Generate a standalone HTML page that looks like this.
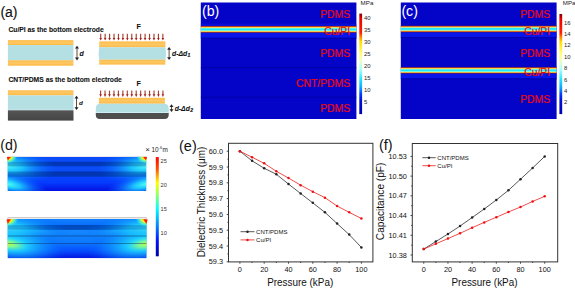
<!DOCTYPE html>
<html><head><meta charset="utf-8"><style>
html,body{margin:0;padding:0;background:#fff;width:575px;height:288px;overflow:hidden}
svg{display:block}
</style></head><body>
<svg width="575" height="288" viewBox="0 0 575 288">
<rect width="575" height="288" fill="#fff"/>
<defs>
<linearGradient id="jetv" x1="0" y1="0" x2="0" y2="1"><stop offset="0.000" stop-color="#7f0000"/><stop offset="0.062" stop-color="#bf0000"/><stop offset="0.125" stop-color="#ff0000"/><stop offset="0.188" stop-color="#ff3f00"/><stop offset="0.250" stop-color="#ff7f00"/><stop offset="0.312" stop-color="#ffbf00"/><stop offset="0.375" stop-color="#ffff00"/><stop offset="0.438" stop-color="#bfff3f"/><stop offset="0.500" stop-color="#7fff7f"/><stop offset="0.562" stop-color="#3fffbf"/><stop offset="0.625" stop-color="#00ffff"/><stop offset="0.688" stop-color="#00bfff"/><stop offset="0.750" stop-color="#007fff"/><stop offset="0.812" stop-color="#003fff"/><stop offset="0.875" stop-color="#0000ff"/><stop offset="0.938" stop-color="#0000bf"/><stop offset="1.000" stop-color="#00007f"/></linearGradient>
<linearGradient id="org" x1="0" y1="0" x2="0" y2="1"><stop offset="0" stop-color="#fcbc48"/><stop offset="0.5" stop-color="#fdc866"/><stop offset="1" stop-color="#fcba42"/></linearGradient>
<linearGradient id="blu" x1="0" y1="0" x2="0" y2="1"><stop offset="0" stop-color="#b4dfe3"/><stop offset="0.85" stop-color="#b4dfe3"/><stop offset="1" stop-color="#bfe6ec"/></linearGradient>
<linearGradient id="gry" x1="0" y1="0" x2="0" y2="1"><stop offset="0" stop-color="#555"/><stop offset="1" stop-color="#454545"/></linearGradient>
<linearGradient id="stripe" x1="0" y1="0" x2="0" y2="1"><stop offset="0" stop-color="#502060"/><stop offset="0.1" stop-color="#d04818"/><stop offset="0.22" stop-color="#ffd848"/><stop offset="0.34" stop-color="#80ffd8"/><stop offset="0.44" stop-color="#20e8ff"/><stop offset="0.56" stop-color="#20e8ff"/><stop offset="0.68" stop-color="#80ffd8"/><stop offset="0.8" stop-color="#ffd848"/><stop offset="0.9" stop-color="#d04818"/><stop offset="1" stop-color="#502060"/></linearGradient>
<marker id="ah" viewBox="0 0 10 10" refX="5" refY="10" markerWidth="4" markerHeight="4" orient="auto"><path d="M0,0 L10,0 L5,10 z" fill="#a3201a"/></marker>
<linearGradient id="cbar" x1="0" y1="0" x2="0" y2="1"><stop offset="0" stop-color="#800010"/><stop offset="0.03" stop-color="#c00000"/><stop offset="0.05" stop-color="#f00000"/><stop offset="0.19" stop-color="#ff2000"/><stop offset="0.23" stop-color="#ff8000"/><stop offset="0.28" stop-color="#ffe000"/><stop offset="0.4" stop-color="#ffff80"/><stop offset="0.46" stop-color="#f0ffc0"/><stop offset="0.56" stop-color="#a0ffff"/><stop offset="0.66" stop-color="#20e0ff"/><stop offset="0.74" stop-color="#10a0ff"/><stop offset="0.8" stop-color="#0040ff"/><stop offset="0.86" stop-color="#0010e0"/><stop offset="1" stop-color="#0000b0"/></linearGradient>
</defs>
<text x="0.4" y="16.9" font-size="14" font-family="Liberation Sans, sans-serif" fill="#111" stroke="#111" stroke-width="0.15">(a)</text>
<text x="8.4" y="31.5" font-size="6.75" font-weight="bold" font-family="Liberation Sans, sans-serif" fill="#111" stroke="#111" stroke-width="0.1">Cu/PI as the bottom electrode</text>
<text x="8.5" y="82.2" font-size="6.75" font-weight="bold" font-family="Liberation Sans, sans-serif" fill="#111" stroke="#111" stroke-width="0.1">CNT/PDMS as the bottom electrode</text>
<rect x="7.9" y="40.1" width="65.5" height="5" fill="url(#org)"/>
<rect x="7.9" y="45.1" width="65.5" height="15.2" fill="#b4dfe3"/>
<rect x="7.9" y="60.3" width="65.5" height="5.4" fill="url(#org)"/>
<line x1="77" y1="47.8" x2="77" y2="58.4" stroke="#222" stroke-width="0.8"/><path d="M75,48.599999999999994 L77,45.8 L79,48.599999999999994 z" fill="#222"/><path d="M75,57.6 L77,60.4 L79,57.6 z" fill="#222"/>
<text x="79.6" y="55.7" font-size="7" font-weight="bold" font-style="italic" font-family="Liberation Sans, sans-serif" fill="#111" stroke="#111" stroke-width="0.08">d</text>
<rect x="99.2" y="41.4" width="66.2" height="5.9" fill="url(#org)"/>
<path d="M99.2,47.2 L165.4,47.2 Q166.6,53.5 165.4,59.7 L99.2,59.7 Q98,53.5 99.2,47.2 z" fill="#b4dfe3"/>
<rect x="99.2" y="59.7" width="66.2" height="4.9" fill="url(#org)"/>
<line x1="100.70" y1="33.8" x2="100.70" y2="38.6" stroke="#a8402f" stroke-width="1.15"/>
<path d="M99.40,38 L102.00,38 L100.70,40.6 z" fill="#a3201a"/>
<line x1="105.14" y1="33.8" x2="105.14" y2="38.6" stroke="#a8402f" stroke-width="1.15"/>
<path d="M103.84,38 L106.44,38 L105.14,40.6 z" fill="#a3201a"/>
<line x1="109.58" y1="33.8" x2="109.58" y2="38.6" stroke="#a8402f" stroke-width="1.15"/>
<path d="M108.28,38 L110.88,38 L109.58,40.6 z" fill="#a3201a"/>
<line x1="114.02" y1="33.8" x2="114.02" y2="38.6" stroke="#a8402f" stroke-width="1.15"/>
<path d="M112.72,38 L115.32,38 L114.02,40.6 z" fill="#a3201a"/>
<line x1="118.46" y1="33.8" x2="118.46" y2="38.6" stroke="#a8402f" stroke-width="1.15"/>
<path d="M117.16,38 L119.76,38 L118.46,40.6 z" fill="#a3201a"/>
<line x1="122.90" y1="33.8" x2="122.90" y2="38.6" stroke="#a8402f" stroke-width="1.15"/>
<path d="M121.60,38 L124.20,38 L122.90,40.6 z" fill="#a3201a"/>
<line x1="127.34" y1="33.8" x2="127.34" y2="38.6" stroke="#a8402f" stroke-width="1.15"/>
<path d="M126.04,38 L128.64,38 L127.34,40.6 z" fill="#a3201a"/>
<line x1="131.78" y1="33.8" x2="131.78" y2="38.6" stroke="#a8402f" stroke-width="1.15"/>
<path d="M130.48,38 L133.08,38 L131.78,40.6 z" fill="#a3201a"/>
<line x1="136.22" y1="33.8" x2="136.22" y2="38.6" stroke="#a8402f" stroke-width="1.15"/>
<path d="M134.92,38 L137.52,38 L136.22,40.6 z" fill="#a3201a"/>
<line x1="140.66" y1="33.8" x2="140.66" y2="38.6" stroke="#a8402f" stroke-width="1.15"/>
<path d="M139.36,38 L141.96,38 L140.66,40.6 z" fill="#a3201a"/>
<line x1="145.10" y1="33.8" x2="145.10" y2="38.6" stroke="#a8402f" stroke-width="1.15"/>
<path d="M143.80,38 L146.40,38 L145.10,40.6 z" fill="#a3201a"/>
<line x1="149.54" y1="33.8" x2="149.54" y2="38.6" stroke="#a8402f" stroke-width="1.15"/>
<path d="M148.24,38 L150.84,38 L149.54,40.6 z" fill="#a3201a"/>
<line x1="153.98" y1="33.8" x2="153.98" y2="38.6" stroke="#a8402f" stroke-width="1.15"/>
<path d="M152.68,38 L155.28,38 L153.98,40.6 z" fill="#a3201a"/>
<line x1="158.42" y1="33.8" x2="158.42" y2="38.6" stroke="#a8402f" stroke-width="1.15"/>
<path d="M157.12,38 L159.72,38 L158.42,40.6 z" fill="#a3201a"/>
<line x1="162.86" y1="33.8" x2="162.86" y2="38.6" stroke="#a8402f" stroke-width="1.15"/>
<path d="M161.56,38 L164.16,38 L162.86,40.6 z" fill="#a3201a"/>
<text x="136.5" y="29" font-size="7" font-weight="bold" font-family="Liberation Sans, sans-serif" fill="#111" stroke="#111" stroke-width="0.1">F</text>
<line x1="169.1" y1="49" x2="169.1" y2="58" stroke="#222" stroke-width="0.8"/><path d="M167.1,49.8 L169.1,47 L171.1,49.8 z" fill="#222"/><path d="M167.1,57.2 L169.1,60 L171.1,57.2 z" fill="#222"/>
<text x="172" y="56" font-size="6.8" font-weight="bold" font-style="italic" font-family="Liberation Sans, sans-serif" fill="#111" stroke="#111" stroke-width="0.08">d-Δd</text>
<text x="187.6" y="57.2" font-size="5" font-weight="bold" font-style="italic" font-family="Liberation Sans, sans-serif" fill="#111" stroke="#111" stroke-width="0.2">1</text>
<rect x="7.9" y="90.3" width="65.6" height="5.1" fill="url(#org)"/>
<rect x="7.9" y="95.4" width="65.6" height="14.9" fill="url(#blu)"/>
<rect x="7.9" y="110.3" width="65.6" height="10.3" fill="url(#gry)"/>
<line x1="76.5" y1="97.8" x2="76.5" y2="108" stroke="#222" stroke-width="0.8"/><path d="M74.5,98.6 L76.5,95.8 L78.5,98.6 z" fill="#222"/><path d="M74.5,107.2 L76.5,110 L78.5,107.2 z" fill="#222"/>
<text x="78.9" y="104.7" font-size="6.2" font-weight="bold" font-style="italic" font-family="Liberation Sans, sans-serif" fill="#111" stroke="#111" stroke-width="0.08">d</text>
<line x1="100.60" y1="90.6" x2="100.60" y2="94.8" stroke="#a8402f" stroke-width="1.15"/>
<path d="M99.30,94.3 L101.90,94.3 L100.60,96.9 z" fill="#a3201a"/>
<line x1="105.05" y1="90.6" x2="105.05" y2="94.8" stroke="#a8402f" stroke-width="1.15"/>
<path d="M103.75,94.3 L106.35,94.3 L105.05,96.9 z" fill="#a3201a"/>
<line x1="109.50" y1="90.6" x2="109.50" y2="94.8" stroke="#a8402f" stroke-width="1.15"/>
<path d="M108.20,94.3 L110.80,94.3 L109.50,96.9 z" fill="#a3201a"/>
<line x1="113.95" y1="90.6" x2="113.95" y2="94.8" stroke="#a8402f" stroke-width="1.15"/>
<path d="M112.65,94.3 L115.25,94.3 L113.95,96.9 z" fill="#a3201a"/>
<line x1="118.40" y1="90.6" x2="118.40" y2="94.8" stroke="#a8402f" stroke-width="1.15"/>
<path d="M117.10,94.3 L119.70,94.3 L118.40,96.9 z" fill="#a3201a"/>
<line x1="122.85" y1="90.6" x2="122.85" y2="94.8" stroke="#a8402f" stroke-width="1.15"/>
<path d="M121.55,94.3 L124.15,94.3 L122.85,96.9 z" fill="#a3201a"/>
<line x1="127.30" y1="90.6" x2="127.30" y2="94.8" stroke="#a8402f" stroke-width="1.15"/>
<path d="M126.00,94.3 L128.60,94.3 L127.30,96.9 z" fill="#a3201a"/>
<line x1="131.75" y1="90.6" x2="131.75" y2="94.8" stroke="#a8402f" stroke-width="1.15"/>
<path d="M130.45,94.3 L133.05,94.3 L131.75,96.9 z" fill="#a3201a"/>
<line x1="136.20" y1="90.6" x2="136.20" y2="94.8" stroke="#a8402f" stroke-width="1.15"/>
<path d="M134.90,94.3 L137.50,94.3 L136.20,96.9 z" fill="#a3201a"/>
<line x1="140.65" y1="90.6" x2="140.65" y2="94.8" stroke="#a8402f" stroke-width="1.15"/>
<path d="M139.35,94.3 L141.95,94.3 L140.65,96.9 z" fill="#a3201a"/>
<line x1="145.10" y1="90.6" x2="145.10" y2="94.8" stroke="#a8402f" stroke-width="1.15"/>
<path d="M143.80,94.3 L146.40,94.3 L145.10,96.9 z" fill="#a3201a"/>
<line x1="149.55" y1="90.6" x2="149.55" y2="94.8" stroke="#a8402f" stroke-width="1.15"/>
<path d="M148.25,94.3 L150.85,94.3 L149.55,96.9 z" fill="#a3201a"/>
<line x1="154.00" y1="90.6" x2="154.00" y2="94.8" stroke="#a8402f" stroke-width="1.15"/>
<path d="M152.70,94.3 L155.30,94.3 L154.00,96.9 z" fill="#a3201a"/>
<line x1="158.45" y1="90.6" x2="158.45" y2="94.8" stroke="#a8402f" stroke-width="1.15"/>
<path d="M157.15,94.3 L159.75,94.3 L158.45,96.9 z" fill="#a3201a"/>
<line x1="162.90" y1="90.6" x2="162.90" y2="94.8" stroke="#a8402f" stroke-width="1.15"/>
<path d="M161.60,94.3 L164.20,94.3 L162.90,96.9 z" fill="#a3201a"/>
<text x="136.5" y="86.3" font-size="7" font-weight="bold" font-family="Liberation Sans, sans-serif" fill="#111" stroke="#111" stroke-width="0.1">F</text>
<rect x="98.9" y="97.8" width="66" height="5.9" fill="url(#org)"/>
<path d="M99.2,103.7 L165.2,103.7 Q168.6,104.3 168.7,108.5 L168.7,112.8 L95.8,112.8 L95.8,108.5 Q95.9,104.3 99.2,103.7 z" fill="#b4dfe3"/>
<line x1="95.9" y1="112.5" x2="168.6" y2="112.5" stroke="#d0f0f8" stroke-width="0.7"/>
<path d="M95.8,112.9 L168.7,112.9 L168.7,115 Q168.5,118.9 164.8,119 L99.6,119 Q95.9,118.9 95.8,115 z" fill="#4e4e4e"/>
<line x1="171.5" y1="106.2" x2="171.5" y2="110" stroke="#222" stroke-width="0.8"/><path d="M169.5,107.0 L171.5,104.2 L173.5,107.0 z" fill="#222"/><path d="M169.5,109.2 L171.5,112 L173.5,109.2 z" fill="#222"/>
<text x="174.7" y="111.1" font-size="6.8" font-weight="bold" font-style="italic" font-family="Liberation Sans, sans-serif" fill="#111" stroke="#111" stroke-width="0.08">d-Δd</text>
<text x="190.3" y="112.4" font-size="5" font-weight="bold" font-style="italic" font-family="Liberation Sans, sans-serif" fill="#111" stroke="#111" stroke-width="0.2">2</text>
<rect x="200.8" y="2.5" width="155.6" height="116.5" fill="#0404c8"/>
<rect x="200.8" y="32.8" width="155.6" height="5" fill="#0818f0" opacity="0.85"/>
<rect x="200.8" y="23.5" width="155.6" height="2.5" fill="#0818e8" opacity="0.5"/>
<rect x="200.8" y="25.9" width="155.6" height="6.9" fill="url(#stripe)"/>
<line x1="200.8" y1="38.2" x2="356.4" y2="38.2" stroke="#000098" stroke-width="0.7"/>
<line x1="200.8" y1="67.6" x2="356.4" y2="67.6" stroke="#000098" stroke-width="0.7"/>
<line x1="200.8" y1="97.2" x2="356.4" y2="97.2" stroke="#000098" stroke-width="0.7"/>
<text x="202" y="16" font-size="14.2" font-family="Liberation Sans, sans-serif" fill="#ffffff">(b)</text>
<text x="350.2" y="17.5" font-size="10.4" text-anchor="end" font-family="Liberation Sans, sans-serif" fill="#ee0808" stroke="#ee0808" stroke-width="0.18">PDMS</text>
<text x="350.2" y="35.4" font-size="10.4" text-anchor="end" font-family="Liberation Sans, sans-serif" fill="#ee0808" stroke="#ee0808" stroke-width="0.18">Cu/PI</text>
<text x="350.2" y="57.2" font-size="10.4" text-anchor="end" font-family="Liberation Sans, sans-serif" fill="#ee0808" stroke="#ee0808" stroke-width="0.18">PDMS</text>
<text x="350.2" y="87.2" font-size="10.4" text-anchor="end" font-family="Liberation Sans, sans-serif" fill="#ee0808" stroke="#ee0808" stroke-width="0.18">CNT/PDMS</text>
<text x="350.2" y="111.7" font-size="10.4" text-anchor="end" font-family="Liberation Sans, sans-serif" fill="#ee0808" stroke="#ee0808" stroke-width="0.18">PDMS</text>
<rect x="359.3" y="13.6" width="2.8" height="100.5" fill="url(#cbar)"/>
<text x="360.6" y="4.9" font-size="6.2" font-family="Liberation Sans, sans-serif" fill="#222">MPa</text>
<text x="364" y="20.40" font-size="5.9" font-family="Liberation Sans, sans-serif" fill="#222">40</text>
<text x="364" y="32.41" font-size="5.9" font-family="Liberation Sans, sans-serif" fill="#222">35</text>
<text x="364" y="44.42" font-size="5.9" font-family="Liberation Sans, sans-serif" fill="#222">30</text>
<text x="364" y="56.43" font-size="5.9" font-family="Liberation Sans, sans-serif" fill="#222">25</text>
<text x="364" y="68.44" font-size="5.9" font-family="Liberation Sans, sans-serif" fill="#222">20</text>
<text x="364" y="80.45" font-size="5.9" font-family="Liberation Sans, sans-serif" fill="#222">15</text>
<text x="364" y="92.46" font-size="5.9" font-family="Liberation Sans, sans-serif" fill="#222">10</text>
<text x="364" y="104.47" font-size="5.9" font-family="Liberation Sans, sans-serif" fill="#222">5</text>
<rect x="400.8" y="2.5" width="155.8" height="116.5" fill="#0404c8"/>
<rect x="400.8" y="32.3" width="155.8" height="5" fill="#0818f0" opacity="0.85"/>
<rect x="400.8" y="73.5" width="155.8" height="5" fill="#0818f0" opacity="0.85"/>
<rect x="400.8" y="25.6" width="155.8" height="6.7" fill="url(#stripe)"/>
<rect x="400.8" y="67.1" width="155.8" height="6.5" fill="url(#stripe)"/>
<line x1="400.8" y1="37.6" x2="556.6" y2="37.6" stroke="#000098" stroke-width="0.7"/>
<line x1="400.8" y1="78.8" x2="556.6" y2="78.8" stroke="#000098" stroke-width="0.7"/>
<text x="401.4" y="16" font-size="14.2" font-family="Liberation Sans, sans-serif" fill="#ffffff">(c)</text>
<text x="550.2" y="17.7" font-size="10.4" text-anchor="end" font-family="Liberation Sans, sans-serif" fill="#ee0808" stroke="#ee0808" stroke-width="0.18">PDMS</text>
<text x="550.2" y="35.0" font-size="10.4" text-anchor="end" font-family="Liberation Sans, sans-serif" fill="#ee0808" stroke="#ee0808" stroke-width="0.18">Cu/PI</text>
<text x="550.2" y="56.7" font-size="10.4" text-anchor="end" font-family="Liberation Sans, sans-serif" fill="#ee0808" stroke="#ee0808" stroke-width="0.18">PDMS</text>
<text x="550.2" y="76.0" font-size="10.4" text-anchor="end" font-family="Liberation Sans, sans-serif" fill="#ee0808" stroke="#ee0808" stroke-width="0.18">Cu/PI</text>
<text x="550.2" y="102.7" font-size="10.4" text-anchor="end" font-family="Liberation Sans, sans-serif" fill="#ee0808" stroke="#ee0808" stroke-width="0.18">PDMS</text>
<rect x="559.4" y="14" width="2.8" height="100.1" fill="url(#cbar)"/>
<text x="562.8" y="4.9" font-size="6.2" font-family="Liberation Sans, sans-serif" fill="#222">MPa</text>
<text x="564" y="24.60" font-size="5.9" font-family="Liberation Sans, sans-serif" fill="#222">16</text>
<text x="564" y="36.01" font-size="5.9" font-family="Liberation Sans, sans-serif" fill="#222">14</text>
<text x="564" y="47.42" font-size="5.9" font-family="Liberation Sans, sans-serif" fill="#222">12</text>
<text x="564" y="58.83" font-size="5.9" font-family="Liberation Sans, sans-serif" fill="#222">10</text>
<text x="564" y="70.24" font-size="5.9" font-family="Liberation Sans, sans-serif" fill="#222">8</text>
<text x="564" y="81.65" font-size="5.9" font-family="Liberation Sans, sans-serif" fill="#222">6</text>
<text x="564" y="93.06" font-size="5.9" font-family="Liberation Sans, sans-serif" fill="#222">4</text>
<text x="564" y="104.47" font-size="5.9" font-family="Liberation Sans, sans-serif" fill="#222">2</text>
<text x="0.2" y="149.6" font-size="14.2" font-family="Liberation Sans, sans-serif" fill="#111">(d)</text>
<text x="145.2" y="152" font-size="8" font-family="Liberation Sans, sans-serif" fill="#222">×</text>
<text x="151.4" y="151.8" font-size="6.4" font-family="Liberation Sans, sans-serif" fill="#222">10</text>
<text x="158.6" y="149.2" font-size="4" font-family="Liberation Sans, sans-serif" fill="#222">-6</text>
<text x="162.4" y="151.8" font-size="6.4" font-family="Liberation Sans, sans-serif" fill="#222">m</text>
<defs><linearGradient id="jetd" x1="0" y1="0" x2="0" y2="1"><stop offset="0" stop-color="#ff0000"/><stop offset="0.12" stop-color="#ff5000"/><stop offset="0.26" stop-color="#ffff00"/><stop offset="0.4" stop-color="#80ff80"/><stop offset="0.52" stop-color="#00ffff"/><stop offset="0.7" stop-color="#0080ff"/><stop offset="0.85" stop-color="#0010ff"/><stop offset="1" stop-color="#0000a0"/></linearGradient></defs>
<rect x="155.8" y="157.1" width="3" height="99.2" fill="url(#jetd)"/>
<text x="160.6" y="162.80" font-size="5.6" font-family="Liberation Sans, sans-serif" fill="#333">25</text>
<text x="160.6" y="186.60" font-size="5.6" font-family="Liberation Sans, sans-serif" fill="#333">20</text>
<text x="160.6" y="210.90" font-size="5.6" font-family="Liberation Sans, sans-serif" fill="#333">15</text>
<text x="160.6" y="235.20" font-size="5.6" font-family="Liberation Sans, sans-serif" fill="#333">10</text>
<defs><linearGradient id="hedge" x1="0" y1="0" x2="1" y2="0"><stop offset="0" stop-color="#40f0ff" stop-opacity="0.95"/><stop offset="0.07" stop-color="#20c8ff" stop-opacity="0.65"/><stop offset="0.2" stop-color="#10a0ff" stop-opacity="0.28"/><stop offset="0.36" stop-color="#0070ff" stop-opacity="0"/><stop offset="0.64" stop-color="#0070ff" stop-opacity="0"/><stop offset="0.8" stop-color="#10a0ff" stop-opacity="0.28"/><stop offset="0.93" stop-color="#20c8ff" stop-opacity="0.65"/><stop offset="1" stop-color="#40f0ff" stop-opacity="0.95"/></linearGradient><linearGradient id="d1v" x1="0" y1="0" x2="0" y2="1"><stop offset="0" stop-color="#1060ff"/><stop offset="0.14" stop-color="#0a58f8"/><stop offset="0.16" stop-color="#0038b0"/><stop offset="0.22" stop-color="#0040c0"/><stop offset="0.245" stop-color="#0a5cff"/><stop offset="0.44" stop-color="#0a58f8"/><stop offset="0.46" stop-color="#0036a8"/><stop offset="0.55" stop-color="#0040b8"/><stop offset="0.57" stop-color="#0858ff"/><stop offset="0.75" stop-color="#0648ff"/><stop offset="1" stop-color="#0410d8"/></linearGradient><radialGradient id="bulb1" cx="0.5" cy="0.5" r="0.5"><stop offset="0" stop-color="#40f8f0" stop-opacity="1"/><stop offset="0.4" stop-color="#20d8ff" stop-opacity="0.8"/><stop offset="1" stop-color="#10a0ff" stop-opacity="0"/></radialGradient><radialGradient id="bulbtop" cx="0.5" cy="0.5" r="0.5"><stop offset="0" stop-color="#50ffff" stop-opacity="1"/><stop offset="0.5" stop-color="#30d8ff" stop-opacity="0.7"/><stop offset="1" stop-color="#10a0ff" stop-opacity="0"/></radialGradient><radialGradient id="corner" cx="0.5" cy="0.5" r="0.5"><stop offset="0" stop-color="#ff2000"/><stop offset="0.22" stop-color="#ff9000"/><stop offset="0.42" stop-color="#f0ff20" stop-opacity="0.95"/><stop offset="0.7" stop-color="#60ffb0" stop-opacity="0.7"/><stop offset="1" stop-color="#20e0ff" stop-opacity="0"/></radialGradient><linearGradient id="d2v" x1="0" y1="0" x2="0" y2="1"><stop offset="0" stop-color="#1888ff"/><stop offset="0.14" stop-color="#1080ff"/><stop offset="0.16" stop-color="#0660d0"/><stop offset="0.27" stop-color="#0868d8"/><stop offset="0.29" stop-color="#1490ff"/><stop offset="0.6" stop-color="#0a80ff"/><stop offset="0.8" stop-color="#0a58ff"/><stop offset="1" stop-color="#0418e4"/></linearGradient><radialGradient id="bulb2" cx="0.5" cy="0.5" r="0.5"><stop offset="0" stop-color="#c0ff40" stop-opacity="1"/><stop offset="0.35" stop-color="#60ffa0" stop-opacity="0.85"/><stop offset="0.7" stop-color="#20d0ff" stop-opacity="0.5"/><stop offset="1" stop-color="#10a0ff" stop-opacity="0"/></radialGradient></defs>
<defs><linearGradient id="d1b" x1="0" y1="0" x2="0" y2="1"><stop offset="0" stop-color="#0848f8"/><stop offset="0.13" stop-color="#0a4cfa"/><stop offset="0.155" stop-color="#0036c4"/><stop offset="0.26" stop-color="#003ac8"/><stop offset="0.285" stop-color="#0a4cf8"/><stop offset="0.415" stop-color="#0a4cf8"/><stop offset="0.44" stop-color="#0034bc"/><stop offset="0.565" stop-color="#003ac4"/><stop offset="0.59" stop-color="#0844ff"/><stop offset="0.75" stop-color="#063cff"/><stop offset="1" stop-color="#0410e0"/></linearGradient><radialGradient id="glow" cx="0.5" cy="0.5" r="0.5"><stop offset="0" stop-color="#50fff0" stop-opacity="1"/><stop offset="0.3" stop-color="#20e0ff" stop-opacity="0.85"/><stop offset="0.65" stop-color="#10a0ff" stop-opacity="0.4"/><stop offset="1" stop-color="#0060ff" stop-opacity="0"/></radialGradient></defs>
<clipPath id="cl1"><rect x="7.6" y="156.8" width="138.70000000000002" height="34.3"/></clipPath>
<g clip-path="url(#cl1)">
<rect x="7.6" y="156.8" width="138.70000000000002" height="34.3" fill="url(#d1b)"/>
<ellipse cx="0" cy="0" rx="50" ry="19" fill="url(#glow)" opacity="0.95" transform="translate(7.6,166) rotate(4)"/>
<ellipse cx="0" cy="0" rx="50" ry="19" fill="url(#glow)" opacity="0.95" transform="translate(146.3,166) rotate(-4)"/>
<ellipse cx="0" cy="0" rx="42" ry="12" fill="url(#glow)" opacity="1" transform="translate(7.6,184) rotate(12)"/>
<ellipse cx="0" cy="0" rx="42" ry="12" fill="url(#glow)" opacity="1" transform="translate(146.3,184) rotate(-12)"/>
<rect x="7.6" y="161.8" width="138.70000000000002" height="4.6" fill="#003090" opacity="0.28"/>
<rect x="7.6" y="171.6" width="138.70000000000002" height="5.2" fill="#003090" opacity="0.28"/>
<ellipse cx="7.6" cy="156.8" rx="10" ry="7" fill="url(#corner)"/>
<ellipse cx="146.3" cy="156.8" rx="10" ry="7" fill="url(#corner)"/>
</g>
<line x1="7.6" y1="156.4" x2="146.3" y2="156.4" stroke="#e8d8d8" stroke-width="0.5"/>
<path d="M6.8,157 L10.6,157 L7.8999999999999995,160.5 z" fill="#ff2000"/>
<path d="M147.10000000000002,157 L143.3,157 L146.0,160.5 z" fill="#ff2000"/>
<defs><linearGradient id="d2b" x1="0" y1="0" x2="0" y2="1"><stop offset="0" stop-color="#1080ff"/><stop offset="0.14" stop-color="#0a70ff"/><stop offset="0.16" stop-color="#0050c8"/><stop offset="0.27" stop-color="#0058d0"/><stop offset="0.29" stop-color="#1488ff"/><stop offset="0.6" stop-color="#0c78ff"/><stop offset="0.8" stop-color="#0650ff"/><stop offset="1" stop-color="#0414e0"/></linearGradient><radialGradient id="glow2" cx="0.5" cy="0.5" r="0.5"><stop offset="0" stop-color="#c0ff40" stop-opacity="1"/><stop offset="0.14" stop-color="#80ff90" stop-opacity="0.95"/><stop offset="0.32" stop-color="#20e0ff" stop-opacity="0.85"/><stop offset="0.7" stop-color="#10a0ff" stop-opacity="0.4"/><stop offset="1" stop-color="#0060ff" stop-opacity="0"/></radialGradient></defs>
<line x1="7.6" y1="217.8" x2="146.6" y2="217.8" stroke="#a09898" stroke-width="0.7"/>
<clipPath id="cl2"><rect x="7.6" y="219" width="139.0" height="39.2"/></clipPath>
<g clip-path="url(#cl2)">
<rect x="7.6" y="219" width="139.0" height="39.2" fill="url(#d2b)"/>
<ellipse cx="0" cy="0" rx="62" ry="18" fill="url(#glow)" opacity="0.95" transform="translate(7.6,229) rotate(3)"/>
<ellipse cx="0" cy="0" rx="62" ry="18" fill="url(#glow)" opacity="0.95" transform="translate(146.6,229) rotate(-3)"/>
<ellipse cx="0" cy="0" rx="60" ry="20" fill="url(#glow2)" opacity="1" transform="translate(7.6,244) rotate(8)"/>
<ellipse cx="0" cy="0" rx="60" ry="20" fill="url(#glow2)" opacity="1" transform="translate(146.6,244) rotate(-8)"/>
<rect x="7.6" y="225" width="139.0" height="4.5" fill="#003090" opacity="0.22"/>
<line x1="7.6" y1="236" x2="146.6" y2="236" stroke="#103060" stroke-width="0.6" opacity="0.85"/>
<line x1="7.6" y1="243.4" x2="146.6" y2="243.4" stroke="#103060" stroke-width="0.6" opacity="0.85"/>
<ellipse cx="7.6" cy="219" rx="11" ry="8" fill="url(#corner)"/>
<ellipse cx="146.6" cy="219" rx="11" ry="8" fill="url(#corner)"/>
</g>
<path d="M6.3999999999999995,219.6 L10.6,219.6 L7.8,224 z" fill="#ff2000"/>
<path d="M147.79999999999998,219.6 L143.6,219.6 L146.4,224 z" fill="#ff2000"/>
<line x1="146.6" y1="217.9" x2="146.6" y2="220" stroke="#b0a0a0" stroke-width="0.5"/>
<line x1="7.6" y1="217.9" x2="7.6" y2="220" stroke="#b0a0a0" stroke-width="0.5"/>
<text x="179" y="150.6" font-size="14.5" font-family="Liberation Sans, sans-serif" fill="#111">(e)</text>
<rect x="228.5" y="143.3" width="144.39999999999998" height="118.59999999999997" fill="none" stroke="#333" stroke-width="1"/><line x1="239.9" y1="261.9" x2="239.9" y2="263.7" stroke="#333" stroke-width="0.9"/><text x="239.9" y="271.5" font-size="7.3" text-anchor="middle" font-family="Liberation Sans, sans-serif" fill="#111">0</text><line x1="264.196" y1="261.9" x2="264.196" y2="263.7" stroke="#333" stroke-width="0.9"/><text x="264.196" y="271.5" font-size="7.3" text-anchor="middle" font-family="Liberation Sans, sans-serif" fill="#111">20</text><line x1="288.492" y1="261.9" x2="288.492" y2="263.7" stroke="#333" stroke-width="0.9"/><text x="288.492" y="271.5" font-size="7.3" text-anchor="middle" font-family="Liberation Sans, sans-serif" fill="#111">40</text><line x1="312.788" y1="261.9" x2="312.788" y2="263.7" stroke="#333" stroke-width="0.9"/><text x="312.788" y="271.5" font-size="7.3" text-anchor="middle" font-family="Liberation Sans, sans-serif" fill="#111">60</text><line x1="337.084" y1="261.9" x2="337.084" y2="263.7" stroke="#333" stroke-width="0.9"/><text x="337.084" y="271.5" font-size="7.3" text-anchor="middle" font-family="Liberation Sans, sans-serif" fill="#111">80</text><line x1="361.38" y1="261.9" x2="361.38" y2="263.7" stroke="#333" stroke-width="0.9"/><text x="361.38" y="271.5" font-size="7.3" text-anchor="middle" font-family="Liberation Sans, sans-serif" fill="#111">100</text><line x1="252.048" y1="261.9" x2="252.048" y2="263.0" stroke="#333" stroke-width="0.9"/><line x1="276.344" y1="261.9" x2="276.344" y2="263.0" stroke="#333" stroke-width="0.9"/><line x1="300.64" y1="261.9" x2="300.64" y2="263.0" stroke="#333" stroke-width="0.9"/><line x1="324.93600000000004" y1="261.9" x2="324.93600000000004" y2="263.0" stroke="#333" stroke-width="0.9"/><line x1="349.232" y1="261.9" x2="349.232" y2="263.0" stroke="#333" stroke-width="0.9"/><line x1="226.7" y1="151.2" x2="228.5" y2="151.2" stroke="#333" stroke-width="0.9"/><text x="223.0" y="153.79999999999998" font-size="7.3" text-anchor="end" font-family="Liberation Sans, sans-serif" fill="#111">60.0</text><line x1="226.7" y1="167.00000000000023" x2="228.5" y2="167.00000000000023" stroke="#333" stroke-width="0.9"/><text x="223.0" y="169.60000000000022" font-size="7.3" text-anchor="end" font-family="Liberation Sans, sans-serif" fill="#111">59.9</text><line x1="226.7" y1="182.80000000000044" x2="228.5" y2="182.80000000000044" stroke="#333" stroke-width="0.9"/><text x="223.0" y="185.40000000000043" font-size="7.3" text-anchor="end" font-family="Liberation Sans, sans-serif" fill="#111">59.8</text><line x1="226.7" y1="198.59999999999954" x2="228.5" y2="198.59999999999954" stroke="#333" stroke-width="0.9"/><text x="223.0" y="201.19999999999953" font-size="7.3" text-anchor="end" font-family="Liberation Sans, sans-serif" fill="#111">59.7</text><line x1="226.7" y1="214.39999999999975" x2="228.5" y2="214.39999999999975" stroke="#333" stroke-width="0.9"/><text x="223.0" y="216.99999999999974" font-size="7.3" text-anchor="end" font-family="Liberation Sans, sans-serif" fill="#111">59.6</text><line x1="226.7" y1="230.2" x2="228.5" y2="230.2" stroke="#333" stroke-width="0.9"/><text x="223.0" y="232.79999999999998" font-size="7.3" text-anchor="end" font-family="Liberation Sans, sans-serif" fill="#111">59.5</text><line x1="226.7" y1="246.00000000000023" x2="228.5" y2="246.00000000000023" stroke="#333" stroke-width="0.9"/><text x="223.0" y="248.60000000000022" font-size="7.3" text-anchor="end" font-family="Liberation Sans, sans-serif" fill="#111">59.4</text><line x1="226.7" y1="261.8000000000004" x2="228.5" y2="261.8000000000004" stroke="#333" stroke-width="0.9"/><text x="223.0" y="264.40000000000043" font-size="7.3" text-anchor="end" font-family="Liberation Sans, sans-serif" fill="#111">59.3</text><line x1="227.4" y1="159.09999999999954" x2="228.5" y2="159.09999999999954" stroke="#333" stroke-width="0.9"/><line x1="227.4" y1="174.89999999999975" x2="228.5" y2="174.89999999999975" stroke="#333" stroke-width="0.9"/><line x1="227.4" y1="190.7" x2="228.5" y2="190.7" stroke="#333" stroke-width="0.9"/><line x1="227.4" y1="206.4999999999991" x2="228.5" y2="206.4999999999991" stroke="#333" stroke-width="0.9"/><line x1="227.4" y1="222.29999999999933" x2="228.5" y2="222.29999999999933" stroke="#333" stroke-width="0.9"/><line x1="227.4" y1="238.09999999999954" x2="228.5" y2="238.09999999999954" stroke="#333" stroke-width="0.9"/><line x1="227.4" y1="253.89999999999975" x2="228.5" y2="253.89999999999975" stroke="#333" stroke-width="0.9"/><polyline points="239.90,151.20 252.05,160.84 264.20,168.26 276.34,174.27 288.49,184.06 300.64,193.54 312.79,202.87 324.94,212.35 337.08,223.56 349.23,234.62 361.38,247.42" fill="none" stroke="#222" stroke-width="0.75"/><circle cx="239.90" cy="151.20" r="1.25" fill="#222"/><circle cx="252.05" cy="160.84" r="1.25" fill="#222"/><circle cx="264.20" cy="168.26" r="1.25" fill="#222"/><circle cx="276.34" cy="174.27" r="1.25" fill="#222"/><circle cx="288.49" cy="184.06" r="1.25" fill="#222"/><circle cx="300.64" cy="193.54" r="1.25" fill="#222"/><circle cx="312.79" cy="202.87" r="1.25" fill="#222"/><circle cx="324.94" cy="212.35" r="1.25" fill="#222"/><circle cx="337.08" cy="223.56" r="1.25" fill="#222"/><circle cx="349.23" cy="234.62" r="1.25" fill="#222"/><circle cx="361.38" cy="247.42" r="1.25" fill="#222"/><polyline points="239.90,151.20 252.05,157.20 264.20,163.37 276.34,171.27 288.49,178.06 300.64,185.17 312.79,191.65 324.94,197.65 337.08,206.03 349.23,212.35 361.38,218.51" fill="none" stroke="#ee1111" stroke-width="0.75"/><circle cx="239.90" cy="151.20" r="1.25" fill="#ee1111"/><circle cx="252.05" cy="157.20" r="1.25" fill="#ee1111"/><circle cx="264.20" cy="163.37" r="1.25" fill="#ee1111"/><circle cx="276.34" cy="171.27" r="1.25" fill="#ee1111"/><circle cx="288.49" cy="178.06" r="1.25" fill="#ee1111"/><circle cx="300.64" cy="185.17" r="1.25" fill="#ee1111"/><circle cx="312.79" cy="191.65" r="1.25" fill="#ee1111"/><circle cx="324.94" cy="197.65" r="1.25" fill="#ee1111"/><circle cx="337.08" cy="206.03" r="1.25" fill="#ee1111"/><circle cx="349.23" cy="212.35" r="1.25" fill="#ee1111"/><circle cx="361.38" cy="218.51" r="1.25" fill="#ee1111"/><text x="300.2" y="285.6" font-size="10.6" text-anchor="middle" textLength="66" lengthAdjust="spacingAndGlyphs" font-family="Liberation Sans, sans-serif" fill="#111">Pressure (kPa)</text><text x="0" y="0" font-size="10.6" text-anchor="middle" textLength="110.5" lengthAdjust="spacingAndGlyphs" font-family="Liberation Sans, sans-serif" fill="#111" transform="translate(204.6,202.0) rotate(-90)">Dielectric Thickness (μm)</text><line x1="240.5" y1="231.7" x2="254.5" y2="231.7" stroke="#222" stroke-width="0.75"/><circle cx="247.50" cy="231.7" r="1.25" fill="#222"/><text x="256.1" y="233.89999999999998" font-size="6" font-family="Liberation Sans, sans-serif" fill="#111">CNT/PDMS</text><line x1="240.5" y1="239.9" x2="254.5" y2="239.9" stroke="#ee1111" stroke-width="0.75"/><circle cx="247.50" cy="239.9" r="1.25" fill="#ee1111"/><text x="256.1" y="242.1" font-size="6" font-family="Liberation Sans, sans-serif" fill="#111">Cu/PI</text>
<text x="379" y="149.8" font-size="14.5" font-family="Liberation Sans, sans-serif" fill="#111">(f)</text>
<rect x="412.3" y="143.5" width="145.40000000000003" height="118.39999999999998" fill="none" stroke="#333" stroke-width="1"/><line x1="423.75" y1="261.9" x2="423.75" y2="263.7" stroke="#333" stroke-width="0.9"/><text x="423.75" y="271.5" font-size="7.3" text-anchor="middle" font-family="Liberation Sans, sans-serif" fill="#111">0</text><line x1="447.94" y1="261.9" x2="447.94" y2="263.7" stroke="#333" stroke-width="0.9"/><text x="447.94" y="271.5" font-size="7.3" text-anchor="middle" font-family="Liberation Sans, sans-serif" fill="#111">20</text><line x1="472.13" y1="261.9" x2="472.13" y2="263.7" stroke="#333" stroke-width="0.9"/><text x="472.13" y="271.5" font-size="7.3" text-anchor="middle" font-family="Liberation Sans, sans-serif" fill="#111">40</text><line x1="496.32" y1="261.9" x2="496.32" y2="263.7" stroke="#333" stroke-width="0.9"/><text x="496.32" y="271.5" font-size="7.3" text-anchor="middle" font-family="Liberation Sans, sans-serif" fill="#111">60</text><line x1="520.51" y1="261.9" x2="520.51" y2="263.7" stroke="#333" stroke-width="0.9"/><text x="520.51" y="271.5" font-size="7.3" text-anchor="middle" font-family="Liberation Sans, sans-serif" fill="#111">80</text><line x1="544.7" y1="261.9" x2="544.7" y2="263.7" stroke="#333" stroke-width="0.9"/><text x="544.7" y="271.5" font-size="7.3" text-anchor="middle" font-family="Liberation Sans, sans-serif" fill="#111">100</text><line x1="435.845" y1="261.9" x2="435.845" y2="263.0" stroke="#333" stroke-width="0.9"/><line x1="460.035" y1="261.9" x2="460.035" y2="263.0" stroke="#333" stroke-width="0.9"/><line x1="484.225" y1="261.9" x2="484.225" y2="263.0" stroke="#333" stroke-width="0.9"/><line x1="508.415" y1="261.9" x2="508.415" y2="263.0" stroke="#333" stroke-width="0.9"/><line x1="532.605" y1="261.9" x2="532.605" y2="263.0" stroke="#333" stroke-width="0.9"/><line x1="410.5" y1="156.40500000000094" x2="412.3" y2="156.40500000000094" stroke="#333" stroke-width="0.9"/><text x="406.8" y="159.00500000000093" font-size="7.3" text-anchor="end" font-family="Liberation Sans, sans-serif" fill="#111">10.53</text><line x1="410.5" y1="176.12400000000054" x2="412.3" y2="176.12400000000054" stroke="#333" stroke-width="0.9"/><text x="406.8" y="178.72400000000053" font-size="7.3" text-anchor="end" font-family="Liberation Sans, sans-serif" fill="#111">10.50</text><line x1="410.5" y1="195.84300000000127" x2="412.3" y2="195.84300000000127" stroke="#333" stroke-width="0.9"/><text x="406.8" y="198.44300000000126" font-size="7.3" text-anchor="end" font-family="Liberation Sans, sans-serif" fill="#111">10.47</text><line x1="410.5" y1="215.56200000000084" x2="412.3" y2="215.56200000000084" stroke="#333" stroke-width="0.9"/><text x="406.8" y="218.16200000000083" font-size="7.3" text-anchor="end" font-family="Liberation Sans, sans-serif" fill="#111">10.44</text><line x1="410.5" y1="235.28100000000043" x2="412.3" y2="235.28100000000043" stroke="#333" stroke-width="0.9"/><text x="406.8" y="237.88100000000043" font-size="7.3" text-anchor="end" font-family="Liberation Sans, sans-serif" fill="#111">10.41</text><line x1="410.5" y1="255.00000000000117" x2="412.3" y2="255.00000000000117" stroke="#333" stroke-width="0.9"/><text x="406.8" y="257.60000000000116" font-size="7.3" text-anchor="end" font-family="Liberation Sans, sans-serif" fill="#111">10.38</text><line x1="411.2" y1="166.26450000000014" x2="412.3" y2="166.26450000000014" stroke="#333" stroke-width="0.9"/><line x1="411.2" y1="185.9834999999997" x2="412.3" y2="185.9834999999997" stroke="#333" stroke-width="0.9"/><line x1="411.2" y1="205.70250000000047" x2="412.3" y2="205.70250000000047" stroke="#333" stroke-width="0.9"/><line x1="411.2" y1="225.42150000000004" x2="412.3" y2="225.42150000000004" stroke="#333" stroke-width="0.9"/><line x1="411.2" y1="245.14049999999963" x2="412.3" y2="245.14049999999963" stroke="#333" stroke-width="0.9"/><polyline points="423.75,249.08 435.85,241.53 447.94,233.97 460.04,226.08 472.13,217.53 484.23,208.99 496.32,199.98 508.42,190.32 520.51,179.21 532.61,167.97 544.70,156.41" fill="none" stroke="#222" stroke-width="0.75"/><circle cx="423.75" cy="249.08" r="1.25" fill="#222"/><circle cx="435.85" cy="241.53" r="1.25" fill="#222"/><circle cx="447.94" cy="233.97" r="1.25" fill="#222"/><circle cx="460.04" cy="226.08" r="1.25" fill="#222"/><circle cx="472.13" cy="217.53" r="1.25" fill="#222"/><circle cx="484.23" cy="208.99" r="1.25" fill="#222"/><circle cx="496.32" cy="199.98" r="1.25" fill="#222"/><circle cx="508.42" cy="190.32" r="1.25" fill="#222"/><circle cx="520.51" cy="179.21" r="1.25" fill="#222"/><circle cx="532.61" cy="167.97" r="1.25" fill="#222"/><circle cx="544.70" cy="156.41" r="1.25" fill="#222"/><polyline points="423.75,249.08 435.85,243.83 447.94,238.57 460.04,233.31 472.13,227.72 484.23,222.40 496.32,217.21 508.42,212.01 520.51,207.02 532.61,201.43 544.70,196.37" fill="none" stroke="#ee1111" stroke-width="0.75"/><circle cx="423.75" cy="249.08" r="1.25" fill="#ee1111"/><circle cx="435.85" cy="243.83" r="1.25" fill="#ee1111"/><circle cx="447.94" cy="238.57" r="1.25" fill="#ee1111"/><circle cx="460.04" cy="233.31" r="1.25" fill="#ee1111"/><circle cx="472.13" cy="227.72" r="1.25" fill="#ee1111"/><circle cx="484.23" cy="222.40" r="1.25" fill="#ee1111"/><circle cx="496.32" cy="217.21" r="1.25" fill="#ee1111"/><circle cx="508.42" cy="212.01" r="1.25" fill="#ee1111"/><circle cx="520.51" cy="207.02" r="1.25" fill="#ee1111"/><circle cx="532.61" cy="201.43" r="1.25" fill="#ee1111"/><circle cx="544.70" cy="196.37" r="1.25" fill="#ee1111"/><text x="484.5" y="285.6" font-size="10.6" text-anchor="middle" textLength="66" lengthAdjust="spacingAndGlyphs" font-family="Liberation Sans, sans-serif" fill="#111">Pressure (kPa)</text><text x="0" y="0" font-size="10.6" text-anchor="middle" textLength="77.5" lengthAdjust="spacingAndGlyphs" font-family="Liberation Sans, sans-serif" fill="#111" transform="translate(384.2,201.4) rotate(-90)">Capacitance (pF)</text><line x1="422.3" y1="157.7" x2="435.7" y2="157.7" stroke="#222" stroke-width="0.75"/><circle cx="429.00" cy="157.7" r="1.25" fill="#222"/><text x="437.3" y="159.89999999999998" font-size="6" font-family="Liberation Sans, sans-serif" fill="#111">CNT/PDMS</text><line x1="422.3" y1="165.7" x2="435.7" y2="165.7" stroke="#ee1111" stroke-width="0.75"/><circle cx="429.00" cy="165.7" r="1.25" fill="#ee1111"/><text x="437.3" y="167.89999999999998" font-size="6" font-family="Liberation Sans, sans-serif" fill="#111">Cu/PI</text>
</svg></body></html>
